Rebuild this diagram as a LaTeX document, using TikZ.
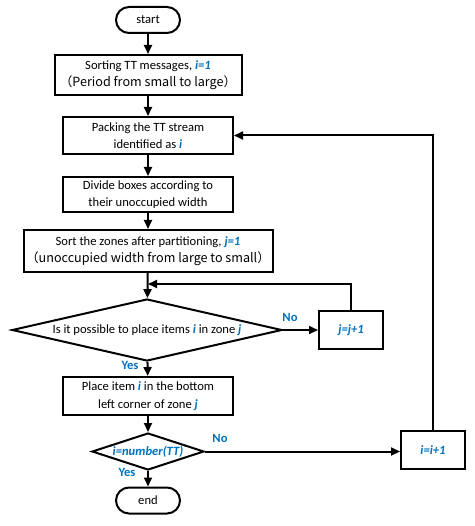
\documentclass[tikz,border=0pt]{standalone}
\usepackage{fontspec}
\setmainfont{Carlito}
\newfontfamily\cjk{Noto Sans CJK SC}
\usetikzlibrary{arrows.meta,shapes.geometric,shapes.misc}
\definecolor{hl}{RGB}{0,112,192}
\newcommand{\hv}[1]{\textcolor{hl}{\textbf{\textit{#1}}}}

\begin{document}
\begin{tikzpicture}[x=1pt,y=-1pt,
    font=\fontsize{12.6}{17.5}\selectfont,
    line width=2pt,
    proc/.style={draw, rectangle, align=center, inner sep=0pt},
    term/.style={draw, rounded rectangle, minimum width=64pt, minimum height=26pt, inner sep=0pt},
    dec/.style={draw, diamond, inner sep=0pt},
    arr/.style={-{Triangle[length=9pt,width=8pt]}},
    lbl/.style={text=hl, font=\fontsize{12.6}{17.5}\selectfont\bfseries}]
            \useasboundingbox (0,0) rectangle (474,526);

            \node[term] (start) at (148,20) {start};
            \node[proc, minimum width=187pt, minimum height=40pt] (s1) at (148,75)
                {Sorting TT messages, \hv{i=1}\\\cjk{（}Period from small to large\cjk{）}};
            \node[proc, minimum width=170pt, minimum height=37pt] (s2) at (148,135.5)
                {Packing the TT stream\\identified as \hv{i}};
            \node[proc, minimum width=170pt, minimum height=35pt] (s3) at (148,194.5)
                {Divide boxes according to\\their unoccupied width};
            \node[proc, minimum width=249pt, minimum height=42pt] (s4) at (148,251)
                {Sort the zones after partitioning, \hv{j=1}\\\cjk{（}unoccupied width from large to small\cjk{）}};
            \node[dec, minimum width=270pt, minimum height=62pt] (d1) at (147,330) {};
            \node (d1t) at (d1) {Is it possible to place items \hv{i} in zone \hv{j}};
            \node[proc, minimum width=64pt, minimum height=38pt] (jinc) at (351,330) {\hv{j=j+1}};
            \node[proc, minimum width=170pt, minimum height=38pt] (s5) at (148,396)
                {Place item \hv{i} in the bottom\\left corner of zone \hv{j}};
            \node[dec, minimum width=112pt, minimum height=37pt] (d2) at (148,451.5) {};
            \node (d2t) at (d2) {\hv{i=number(TT)}};
            \node[proc, minimum width=64pt, minimum height=38pt] (iinc) at (433,450) {\hv{i=i+1}};
            \node[term] (end) at (148,500.5) {end};

            \node[lbl] (no1) at (290,317) {No};
            \node[lbl] (yes1) at (130,365) {Yes};
            \node[lbl] (no2) at (220,438) {No};
            \node[lbl] (yes2) at (127,472) {Yes};

            \coordinate (jback) at (148,284);

            \draw[arr] (start) -- (s1);
            \draw[arr] (s1) -- (s2);
            \draw[arr] (s2) -- (s3);
            \draw[arr] (s3) -- (s4);
            \draw[arr] (s4) -- (d1);
            \draw[arr] (d1.east) -- (jinc.west);
            \draw[arr] (jinc.north) |- (jback);
            \draw[arr] (d1) -- (s5);
            \draw[arr] (s5) -- (d2);
            \draw[arr] (d2.east) -- (d2.east -| iinc.west);
            \draw[arr] (iinc.north) |- (s2.east);
            \draw[arr] (d2) -- (end);
        \end{tikzpicture}
\end{document}
